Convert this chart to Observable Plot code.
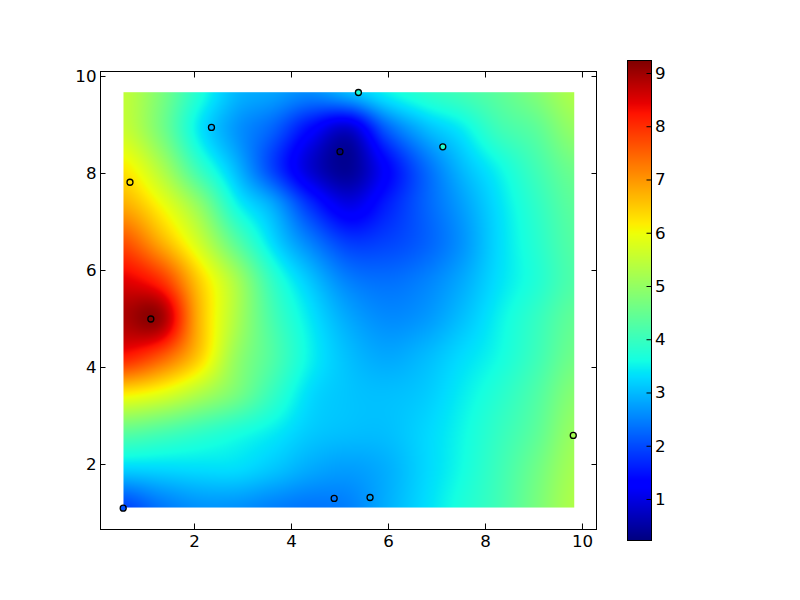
<!DOCTYPE html>
<html><head><meta charset="utf-8">
<script src="https://cdn.jsdelivr.net/npm/d3@7"></script>
<script src="https://cdn.jsdelivr.net/npm/@observablehq/plot@0.6"></script>
<style>
html,body{margin:0;padding:0;background:#fff}
#wrap{position:relative;width:800px;height:600px}
#wrap svg{position:absolute;left:0;top:0;background:transparent}
</style></head><body><div id="wrap"></div>
<script>
const gridX = [0.53,1.30,2.08,2.85,3.63,4.40,5.18,5.95,6.73,7.50,8.27,9.05,9.82];
const gridY = [9.68,8.90,8.13,7.35,6.57,5.79,5.01,4.23,3.45,2.67,1.89,1.11];
const row968 = [5.5,4.75,3.75,3.0,2.8,2.6,3.0,3.5,3.85,4.1,4.4,4.8,5.3];
const row890 = [5.6,4.7,3.45,2.7,2.2,1.35,0.8,2.15,2.95,3.42,4.05,4.4,5.0];
const row813 = [6.2,5.3,4.0,3.0,1.9,0.85,0.4,1.3,2.25,3.0,3.55,4.1,4.6];
const row735 = [6.8,6.05,5.0,3.6,2.85,1.75,1.05,1.6,2.2,2.75,3.35,3.9,4.4];
const row657 = [7.7,6.8,5.7,4.4,3.3,2.5,1.9,1.95,2.2,2.65,3.3,3.8,4.3];
const row579 = [8.5,8.0,6.5,5.25,3.9,3.1,2.5,2.35,2.5,2.85,3.35,3.75,4.25];
const row501 = [8.9,9.0,6.75,5.3,4.15,3.4,2.85,2.6,2.7,3.05,3.5,3.95,4.45];
const row423 = [8.2,7.6,6.5,5.05,4.25,3.5,3.05,2.85,3.0,3.3,3.6,4.05,4.6];
const row345 = [6.15,5.85,5.3,4.7,3.95,3.3,3.1,3.05,3.15,3.45,3.8,4.25,4.85];
const row267 = [4.4,4.2,3.95,3.7,3.45,3.15,3.05,3.05,3.25,3.55,3.95,4.4,5.05];
const row189 = [3.2,3.25,3.3,3.3,3.1,2.85,2.75,2.9,3.25,3.6,4.05,4.6,5.2];
const row111 = [1.95,2.4,2.65,2.65,2.5,2.4,2.5,2.9,3.3,3.7,4.1,4.7,5.3];
const rows = [row968,row890,row813,row735,row657,row579,row501,row423,row345,row267,row189,row111];
const pointX = [0.53,0.67,1.10,2.35,5.00,5.38,7.12,9.81,4.88,5.62];
const pointY = [1.10,7.82,5.00,8.95,8.45,9.67,8.55,2.60,1.30,1.32];
const pointV = [2.1,6.3,9.25,2.9,0.25,3.7,3.8,5.2,2.4,2.8];
const xTicks = [2,4,6,8,10];
const yTicks = [2,4,6,8,10];
const barTicks = [1,2,3,4,5,6,7,8,9];
const vMin = 0.23, vMax = 9.244;
const jetStops = [0,.11,.125,.34,.35,.375,.64,.65,.66,.89,.91,1];
const jetColors = ["#00007f","#0000ff","#0000ff","#00dbff","#00e5f8","#14ffe2","#eeff08","#f7f600","#ffec00","#ff1300","#e80000","#7f0000"];
const color = {type:"linear",domain:jetStops.map(t=>vMin+t*(vMax-vMin)),range:jetColors,clamp:true,interpolate:"rgb"};
const font = "DejaVu Sans";
const fs = 16.67;

function cr(a,b,c,d,t){return 0.5*(2*b+(c-a)*t+(2*a-5*b+4*c-d)*t*t+(3*b-a-3*c+d)*t*t*t);}
function smooth(x,y){
  const dx=(gridX[gridX.length-1]-gridX[0])/(gridX.length-1), dy=(gridY[0]-gridY[gridY.length-1])/(gridY.length-1);
  const fx=Math.min(gridX.length-1.0001,Math.max(0,(x-gridX[0])/dx)), fy=Math.min(gridY.length-1.0001,Math.max(0,(gridY[0]-y)/dy));
  const i=Math.floor(fx), j=Math.floor(fy), tx=fx-i, ty=fy-j;
  const at=(r,c)=>rows[Math.max(0,Math.min(rows.length-1,r))][Math.max(0,Math.min(gridX.length-1,c))];
  const col=r=>cr(at(r,i-1),at(r,i),at(r,i+1),at(r,i+2),tx);
  return cr(col(j-1),col(j),col(j+1),col(j+2),ty);
}
const points = pointX.map((x,i)=>({x,y:pointY[i],v:pointV[i]}));
const main = Plot.plot({
  width:800,height:600,marginLeft:100,marginRight:204,marginTop:71,marginBottom:71,
  style:{fontFamily:font,fontSize:fs+"px",background:"transparent",color:"#000"},
  x:{domain:[0.062,10.289]},y:{domain:[0.66,10.103]},color,
  marks:[
    Plot.raster({fill:smooth,x1:0.536,x2:9.83,y1:1.113,y2:9.676,pixelSize:1}),
    Plot.dot(points,{x:"x",y:"y",fill:"v",stroke:"#000",r:3,strokeWidth:1.3}),
    Plot.axisX({ticks:xTicks,anchor:"bottom",tickSize:-5.5,tickPadding:11.5,label:null,fontSize:fs}),
    Plot.axisX({ticks:xTicks,anchor:"top",tickSize:-5.5,tickFormat:()=>"",label:null}),
    Plot.axisY({ticks:yTicks,anchor:"left",tickSize:-5.5,tickPadding:9.5,label:null,fontSize:fs}),
    Plot.axisY({ticks:yTicks,anchor:"right",tickSize:-5.5,tickFormat:()=>"",label:null}),
    Plot.frame({stroke:"#000",strokeWidth:1})
  ]
});
const bar = Plot.plot({
  width:800,height:600,marginLeft:627,marginRight:149,marginTop:60,marginBottom:60,
  style:{fontFamily:font,fontSize:fs+"px",background:"transparent",color:"#000"},
  x:{domain:[0,1],axis:null},y:{domain:[vMin,vMax]},color,
  marks:[
    Plot.raster({fill:(x,y)=>y,x1:0,x2:1,y1:vMin,y2:vMax,pixelSize:1}),
    Plot.axisY({ticks:barTicks,anchor:"right",tickSize:-5.5,tickPadding:9,label:null,fontSize:fs}),
    Plot.frame({stroke:"#000",strokeWidth:1})
  ]
});
const w=document.getElementById("wrap");w.append(main,bar);
</script></body></html>
